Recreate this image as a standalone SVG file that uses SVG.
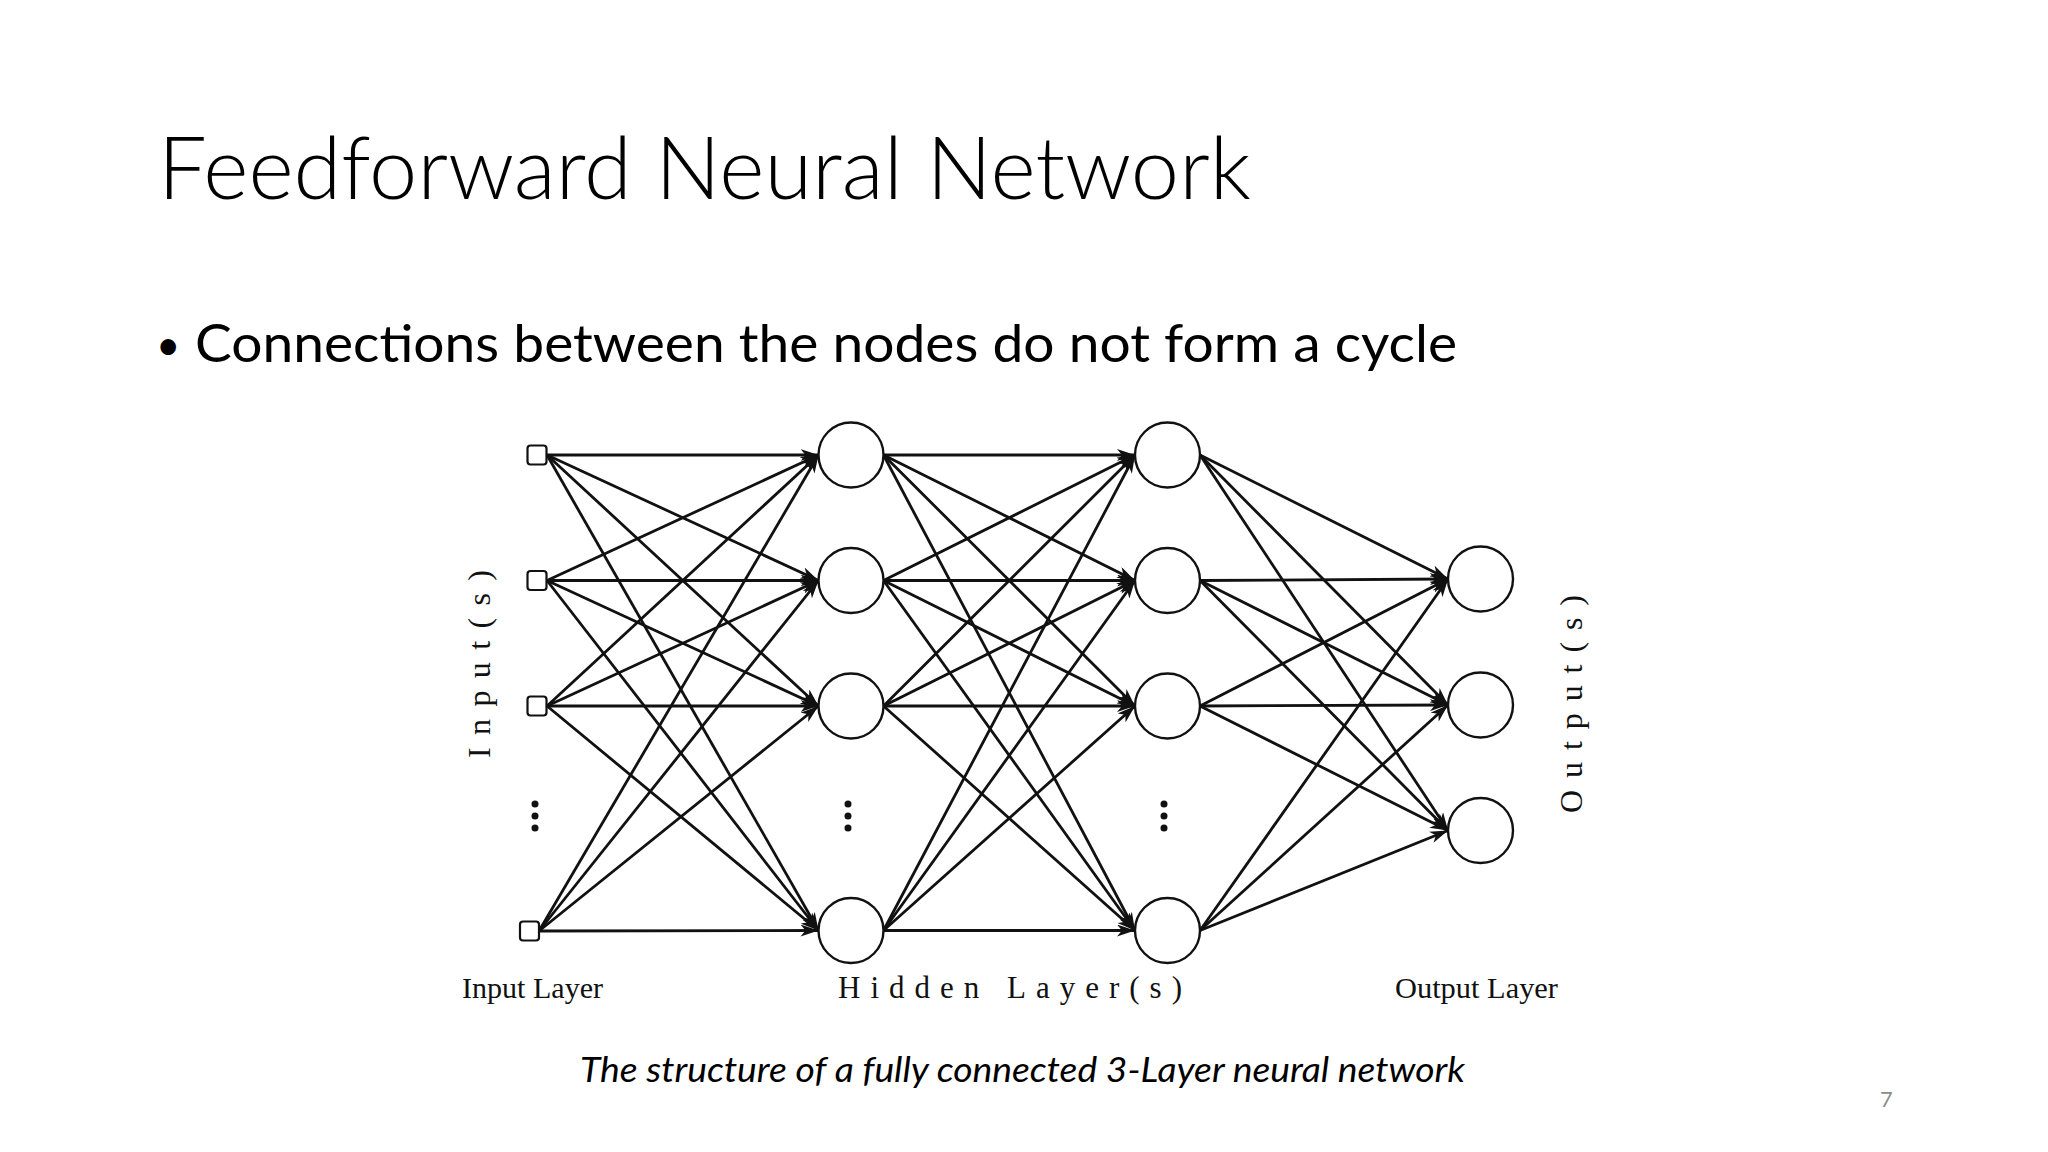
<svg xmlns="http://www.w3.org/2000/svg" width="2048" height="1152" viewBox="0 0 2048 1152">
<style>
.title{font-family:Lato,"Open Sans","Liberation Sans",sans-serif;font-weight:300;fill:#000}
.bullet{font-family:Lato,"Open Sans","Liberation Sans",sans-serif;font-weight:400;fill:#000}
.cap{font-family:Lato,"Open Sans","Liberation Sans",sans-serif;font-style:italic;fill:#000}
.lbl{font-family:"Liberation Serif","Times New Roman",serif;fill:#111}
.sq{fill:#fff;stroke:#111;stroke-width:2.2}
.nd{fill:#fff;stroke:#111;stroke-width:2.4}
.dot{fill:#111}
.edges line{stroke:#111;stroke-width:2.8;marker-end:url(#arr)}
</style>
<defs>
<marker id="arr" viewBox="0 0 18 12" refX="18" refY="6" markerWidth="18" markerHeight="12" markerUnits="userSpaceOnUse" orient="auto">
<path d="M0,0 L18,6 L0,12 L5,6 Z" fill="#111"/>
</marker>
</defs>
<rect width="2048" height="1152" fill="#fff"/>

<text class="title" x="158" y="199" font-size="86" textLength="1093" lengthAdjust="spacingAndGlyphs">Feedforward Neural Network</text>
<text class="bullet" x="156" y="360" font-size="42">•</text>
<text class="bullet" x="195" y="362" font-size="52" textLength="1262" lengthAdjust="spacingAndGlyphs">Connections between the nodes do not form a cycle</text>

<g class="edges" id="connectors">
<!-- input -> hidden1 -->
<line x1="547" y1="455" x2="818.5" y2="455"/>
<line x1="547" y1="455" x2="818.5" y2="580.5"/>
<line x1="547" y1="455" x2="818.5" y2="706"/>
<line x1="547" y1="455" x2="818.5" y2="930.5"/>
<line x1="547" y1="580.5" x2="818.5" y2="455"/>
<line x1="547" y1="580.5" x2="818.5" y2="580.5"/>
<line x1="547" y1="580.5" x2="818.5" y2="706"/>
<line x1="547" y1="580.5" x2="818.5" y2="930.5"/>
<line x1="547" y1="706" x2="818.5" y2="455"/>
<line x1="547" y1="706" x2="818.5" y2="580.5"/>
<line x1="547" y1="706" x2="818.5" y2="706"/>
<line x1="547" y1="706" x2="818.5" y2="930.5"/>
<line x1="539" y1="931" x2="818.5" y2="455"/>
<line x1="539" y1="931" x2="818.5" y2="580.5"/>
<line x1="539" y1="931" x2="818.5" y2="706"/>
<line x1="539" y1="931" x2="818.5" y2="930.5"/>
<!-- hidden1 -> hidden2 -->
<line x1="883.5" y1="455" x2="1135" y2="455"/>
<line x1="883.5" y1="455" x2="1135" y2="580.5"/>
<line x1="883.5" y1="455" x2="1135" y2="706"/>
<line x1="883.5" y1="455" x2="1135" y2="930.5"/>
<line x1="883.5" y1="580.5" x2="1135" y2="455"/>
<line x1="883.5" y1="580.5" x2="1135" y2="580.5"/>
<line x1="883.5" y1="580.5" x2="1135" y2="706"/>
<line x1="883.5" y1="580.5" x2="1135" y2="930.5"/>
<line x1="883.5" y1="706" x2="1135" y2="455"/>
<line x1="883.5" y1="706" x2="1135" y2="580.5"/>
<line x1="883.5" y1="706" x2="1135" y2="706"/>
<line x1="883.5" y1="706" x2="1135" y2="930.5"/>
<line x1="883.5" y1="930.5" x2="1135" y2="455"/>
<line x1="883.5" y1="930.5" x2="1135" y2="580.5"/>
<line x1="883.5" y1="930.5" x2="1135" y2="706"/>
<line x1="883.5" y1="930.5" x2="1135" y2="930.5"/>
<!-- hidden2 -> output -->
<line x1="1200" y1="455" x2="1448" y2="579"/>
<line x1="1200" y1="455" x2="1448" y2="705"/>
<line x1="1200" y1="455" x2="1448" y2="830.5"/>
<line x1="1200" y1="580.5" x2="1448" y2="579"/>
<line x1="1200" y1="580.5" x2="1448" y2="705"/>
<line x1="1200" y1="580.5" x2="1448" y2="830.5"/>
<line x1="1200" y1="706" x2="1448" y2="579"/>
<line x1="1200" y1="706" x2="1448" y2="705"/>
<line x1="1200" y1="706" x2="1448" y2="830.5"/>
<line x1="1200" y1="930.5" x2="1448" y2="579"/>
<line x1="1200" y1="930.5" x2="1448" y2="705"/>
<line x1="1200" y1="930.5" x2="1448" y2="830.5"/>
</g>

<g id="input-1"><rect class="sq" x="527.5" y="445.5" width="19" height="19" rx="3"/></g>
<g id="input-2"><rect class="sq" x="527.5" y="571" width="19" height="19" rx="3"/></g>
<g id="input-3"><rect class="sq" x="527.5" y="696.5" width="19" height="19" rx="3"/></g>
<g id="input-dots"><circle class="dot" cx="535" cy="804" r="3.5"/><circle class="dot" cx="535" cy="816" r="3.5"/><circle class="dot" cx="535" cy="828" r="3.5"/></g>
<g id="input-n"><rect class="sq" x="520" y="921.5" width="19" height="19" rx="3"/></g>

<g id="hidden1-1"><circle class="nd" cx="851" cy="455" r="32.5"/></g>
<g id="hidden1-2"><circle class="nd" cx="851" cy="580.5" r="32.5"/></g>
<g id="hidden1-3"><circle class="nd" cx="851" cy="706" r="32.5"/></g>
<g id="hidden1-dots"><circle class="dot" cx="848" cy="804" r="3.5"/><circle class="dot" cx="848" cy="816" r="3.5"/><circle class="dot" cx="848" cy="828" r="3.5"/></g>
<g id="hidden1-n"><circle class="nd" cx="851" cy="930.5" r="32.5"/></g>

<g id="hidden2-1"><circle class="nd" cx="1167.5" cy="455" r="32.5"/></g>
<g id="hidden2-2"><circle class="nd" cx="1167.5" cy="580.5" r="32.5"/></g>
<g id="hidden2-3"><circle class="nd" cx="1167.5" cy="706" r="32.5"/></g>
<g id="hidden2-dots"><circle class="dot" cx="1164" cy="804" r="3.5"/><circle class="dot" cx="1164" cy="816" r="3.5"/><circle class="dot" cx="1164" cy="828" r="3.5"/></g>
<g id="hidden2-n"><circle class="nd" cx="1167.5" cy="930.5" r="32.5"/></g>

<g id="output-1"><circle class="nd" cx="1480.5" cy="579" r="32.5"/></g>
<g id="output-2"><circle class="nd" cx="1480.5" cy="705" r="32.5"/></g>
<g id="output-3"><circle class="nd" cx="1480.5" cy="830.5" r="32.5"/></g>

<g id="labels">
<text class="lbl" x="462" y="998" font-size="30" textLength="141" lengthAdjust="spacingAndGlyphs">Input Layer</text>
<text class="lbl" x="838" y="998" font-size="31" textLength="344" lengthAdjust="spacing">Hidden  Layer(s)</text>
<text class="lbl" x="1395" y="998" font-size="30" textLength="163" lengthAdjust="spacingAndGlyphs">Output Layer</text>
<text class="lbl" transform="translate(490,758) rotate(-90)" font-size="32" textLength="188" lengthAdjust="spacing">Input(s)</text>
<text class="lbl" transform="translate(1582,813) rotate(-90)" font-size="32" textLength="218" lengthAdjust="spacing">Output(s)</text>
</g>

<text class="cap" x="580" y="1082" font-size="34" textLength="885" lengthAdjust="spacingAndGlyphs">The structure of a fully connected 3-Layer neural network</text>
<text x="1880" y="1107" font-family="Lato,'Open Sans',sans-serif" font-size="22" fill="#8c8c8c">7</text>
</svg>
